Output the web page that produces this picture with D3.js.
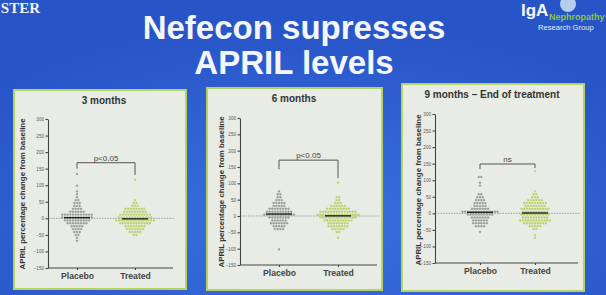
<!DOCTYPE html>
<html>
<head>
<meta charset="utf-8">
<script src="https://cdn.jsdelivr.net/npm/d3@7"></script>
<style>
  html, body { margin: 0; padding: 0; background: #2a5ac8; }
  svg { display: block; }
</style>
</head>
<body>
<div id="chart"></div>
<script>
// categories and y ticks
const groups = ["Placebo", "Treated"];
const yTicks = [-150, -100, -50, 0, 50, 100, 150, 200, 250, 300];
const panelTitles = ["3 months", "6 months", "9 months \u2013 End of treatment"];
const sigLabels = ["p<0.05", "p<0.05", "ns"];
const bracketTop = [168, 171, 149];
const bracketLegs = [[150, 131], [150, 116], [134, 137]];

// APRIL % change from baseline
const placebo3 = [138,100,80,75,62,56,53,47,45,42,39,37,35,31,30,28,27,23,22,21,20,19,
  16,15,14,14,13,12,10,9,9,8,8,7,7,6,5,4,3,3,2,2,1,1,0,0,-1,
  -3,-4,-4,-5,-5,-6,-6,-7,-8,-10,-11,-12,-12,-13,-14,-15,
  -18,-19,-20,-21,-23,-26,-27,-29,-30,-33,-35,-37,-41,-43,-49,-52,-58,-65];
const treated3 = [120,55,49,47,41,40,38,33,32,31,30,29,26,25,25,24,23,22,
  19,18,18,17,17,16,15,15,12,11,11,10,10,9,9,8,8,7,
  4,4,3,3,3,2,2,1,1,1,0,0,-1,-2,-2,-3,-3,-4,-4,-5,-5,-6,-6,-7,-7,
  -9,-10,-10,-11,-11,-12,-13,-13,-14,-15,-15,-17,-18,-19,-19,-20,-21,-22,-23,-23,
  -26,-27,-28,-29,-30,-31,-31,-34,-35,-36,-37,-38,-41,-43,-45,-48,-52];
const placebo6 = [145,72,68,64,57,54,49,47,46,44,41,40,39,38,
  34,33,31,30,29,26,25,25,24,23,22,19,18,17,17,16,15,14,
  12,11,10,10,9,8,8,7,5,4,4,3,3,2,1,1,0,
  -2,-3,-4,-4,-5,-6,-7,-7,-10,-11,-12,-13,-14,-15,
  -18,-19,-20,-21,-22,-23,-26,-27,-28,-30,-31,-34,-36,-38,-41,-43,-100];
const treated6 = [100,60,57,52,50,42,40,38,34,33,32,31,30,27,26,25,25,24,23,22,
  19,18,18,17,17,16,16,15,14,12,12,11,11,10,10,9,9,8,8,7,
  5,4,4,3,3,3,2,2,1,1,1,0,0,-1,-2,-2,-3,-3,-4,-4,-5,-5,-6,-6,-7,-7,
  -9,-10,-10,-11,-11,-12,-13,-13,-14,-15,-15,-17,-18,-19,-20,-21,-22,-22,-23,
  -26,-27,-28,-29,-30,-31,-31,-34,-35,-36,-37,-38,-41,-43,-45,-48,-70];
const placebo9 = [112,108,95,85,60,56,53,47,45,43,39,38,37,35,
  31,30,29,28,23,22,21,20,19,16,15,15,14,13,12,
  10,9,9,8,8,7,7,6,4,3,3,2,2,1,1,0,0,
  -3,-4,-4,-5,-5,-6,-6,-7,-10,-11,-12,-12,-13,-14,-15,
  -18,-19,-20,-21,-22,-23,-26,-27,-28,-29,-30,-33,-35,-37,-41,-43,-52];
const treated9 = [125,65,60,57,52,50,49,44,43,42,41,37,36,35,35,34,33,
  30,29,28,28,27,26,25,22,21,21,20,20,19,18,18,
  14,13,13,12,12,11,11,10,10,7,6,6,5,5,4,4,3,3,2,
  0,-1,-1,-2,-2,-3,-3,-4,-4,-5,-8,-9,-9,-10,-10,-11,-11,-12,-12,-13,
  -16,-17,-17,-18,-18,-19,-19,-20,-21,-23,-24,-25,-25,-26,-27,-27,-28,
  -31,-32,-32,-33,-34,-35,-37,-38,-39,-40,-44,-46,-65,-70];

const series = [[placebo3, treated3], [placebo6, treated6], [placebo9, treated9]];

// where each panel sits in the (slightly skewed) photo
const layout = [
  { box: [14, 90, 172, 199], ax: [48, 173], ay: [268, 119], cx: [77, 135], title: [104, 104], ylab: [25, 194] },
  { box: [207, 88, 175, 202], ax: [240, 377], ay: [265, 118], cx: [279, 338], title: [294, 102], ylab: [224, 192] },
  { box: [402, 84, 182, 207], ax: [435, 578], ay: [263, 114], cx: [480, 535], title: [492, 98], ylab: [421, 190] }
];

const width = 606, height = 295;
const placeboColor = "#a0a0a0";
const treatedColor = "#c4d96a";
const textColor = "#333";

const svg = d3.select("#chart").append("svg")
  .attr("width", width)
  .attr("height", height);

const defs = svg.append("defs");
const grad = defs.append("radialGradient")
  .attr("id", "bg")
  .attr("cx", "50%").attr("cy", "75%").attr("r", "70%");
grad.append("stop").attr("offset", "0%").attr("stop-color", "#3a70e0");
grad.append("stop").attr("offset", "100%").attr("stop-color", "#2754c6");

svg.append("rect")
  .attr("width", width).attr("height", height)
  .attr("fill", "url(#bg)");

// heading
svg.append("text")
  .attr("x", 294).attr("y", 39)
  .attr("text-anchor", "middle")
  .attr("font-family", "Liberation Sans, Arial, sans-serif")
  .attr("font-weight", "bold")
  .attr("font-size", 33)
  .attr("fill", "#f4f6fb")
  .text("Nefecon supresses");
svg.append("text")
  .attr("x", 294).attr("y", 74)
  .attr("text-anchor", "middle")
  .attr("font-family", "Liberation Sans, Arial, sans-serif")
  .attr("font-weight", "bold")
  .attr("font-size", 33)
  .attr("fill", "#f4f6fb")
  .text("APRIL levels");

// cropped university name, top left
svg.append("text")
  .attr("x", 40).attr("y", 13)
  .attr("text-anchor", "end")
  .attr("font-family", "Liberation Serif, serif")
  .attr("font-weight", "bold")
  .attr("font-size", 15)
  .attr("fill", "#f0f2f8")
  .text("STER");

// logo, top right
svg.append("circle")
  .attr("cx", 568).attr("cy", 4).attr("r", 8)
  .attr("fill", "#cfe3f2").attr("opacity", 0.85);
svg.append("text")
  .attr("x", 521).attr("y", 16)
  .attr("font-family", "Liberation Sans, Arial, sans-serif")
  .attr("font-weight", "bold")
  .attr("font-size", 17)
  .attr("fill", "#f4f6fb")
  .text("IgA");
svg.append("text")
  .attr("x", 549).attr("y", 20)
  .attr("font-family", "Liberation Sans, Arial, sans-serif")
  .attr("font-weight", "bold")
  .attr("font-size", 9)
  .attr("fill", "#8cc63e")
  .text("Nephropathy");
svg.append("text")
  .attr("x", 538).attr("y", 30)
  .attr("font-family", "Liberation Sans, Arial, sans-serif")
  .attr("font-size", 7.6)
  .attr("fill", "#e8edf7")
  .text("Research Group");

const rowH = 2.9, dotGap = 2.7;

layout.forEach((L, i) => {
  const g = svg.append("g");

  g.append("rect")
    .attr("x", L.box[0]).attr("y", L.box[1])
    .attr("width", L.box[2]).attr("height", L.box[3])
    .attr("fill", "#e8ece5")
    .attr("stroke", "#b6d262")
    .attr("stroke-width", 2);

  const y = d3.scaleLinear().domain([-150, 300]).range(L.ay);
  const x = d3.scalePoint().domain(groups).range(L.cx);

  g.append("text")
    .attr("x", L.title[0]).attr("y", L.title[1])
    .attr("text-anchor", "middle")
    .attr("font-family", "Liberation Sans, Arial, sans-serif")
    .attr("font-weight", "bold")
    .attr("font-size", 10)
    .attr("fill", textColor)
    .text(panelTitles[i]);

  g.append("text")
    .attr("transform", `translate(${L.ylab[0]},${L.ylab[1]}) rotate(-90)`)
    .attr("text-anchor", "middle")
    .attr("font-family", "Liberation Sans, Arial, sans-serif")
    .attr("font-weight", "bold")
    .attr("font-size", 7.9)
    .attr("fill", textColor)
    .text("APRIL percentage change from baseline");

  // zero reference line
  g.append("line")
    .attr("x1", L.ax[0]).attr("x2", L.ax[1] + 2)
    .attr("y1", y(0)).attr("y2", y(0))
    .attr("stroke", "#8a8a8a")
    .attr("stroke-width", 0.8)
    .attr("stroke-dasharray", "1.5,1.2");

  // swarm of dots
  groups.forEach((grp, k) => {
    const vals = series[i][k].slice().sort((a, b) => b - a);
    const rows = d3.group(vals, v => Math.round(y(v) / rowH));
    const pts = [];
    rows.forEach((list, r) => {
      list.forEach((v, j) => {
        pts.push({ cy: r * rowH, dx: (j - (list.length - 1) / 2) * dotGap });
      });
    });
    g.append("g").selectAll("circle")
      .data(pts)
      .enter()
      .append("circle")
      .attr("cx", d => x(grp) + d.dx)
      .attr("cy", d => d.cy)
      .attr("r", 0.95)
      .attr("fill", k === 0 ? placeboColor : treatedColor)
      .attr("stroke", k === 0 ? "#777" : "#a3bb45")
      .attr("stroke-width", 0.3);

    const med = d3.median(series[i][k]);
    g.append("line")
      .attr("x1", x(grp) - 13).attr("x2", x(grp) + 13)
      .attr("y1", y(med)).attr("y2", y(med))
      .attr("stroke", "#222")
      .attr("stroke-width", 1.4);
  });

  // axes
  const yAxis = g.append("g")
    .attr("transform", `translate(${L.ax[0]},0)`)
    .call(d3.axisLeft(y).tickValues(yTicks).tickSize(2.5).tickSizeOuter(0).tickPadding(1.5));
  yAxis.selectAll("text")
    .attr("font-family", "Liberation Sans, Arial, sans-serif")
    .attr("font-size", 4.6)
    .attr("fill", "#555");

  const xAxis = g.append("g")
    .attr("transform", `translate(0,${L.ay[0]})`)
    .call(d3.axisBottom(x).tickSize(2).tickSizeOuter(0).tickPadding(3));
  xAxis.select(".domain").attr("d", `M${L.ax[0]},0H${L.ax[1]}`);
  xAxis.selectAll("text")
    .attr("font-family", "Liberation Sans, Arial, sans-serif")
    .attr("font-weight", "bold")
    .attr("font-size", 8.6)
    .attr("fill", "#444");

  g.selectAll(".domain, .tick line")
    .attr("stroke", "#444")
    .attr("stroke-width", 1.1);

  // significance bracket
  const bx0 = x(groups[0]), bx1 = x(groups[1]);
  g.append("path")
    .attr("d", `M${bx0},${y(bracketLegs[i][0])}V${y(bracketTop[i])}H${bx1}V${y(bracketLegs[i][1])}`)
    .attr("fill", "none")
    .attr("stroke", "#555")
    .attr("stroke-width", 1);
  g.append("text")
    .attr("x", (bx0 + bx1) / 2)
    .attr("y", y(bracketTop[i]) - 2)
    .attr("text-anchor", "middle")
    .attr("font-family", "Liberation Sans, Arial, sans-serif")
    .attr("font-size", 8)
    .attr("fill", "#444")
    .text(sigLabels[i]);
});
</script>
</body>
</html>
